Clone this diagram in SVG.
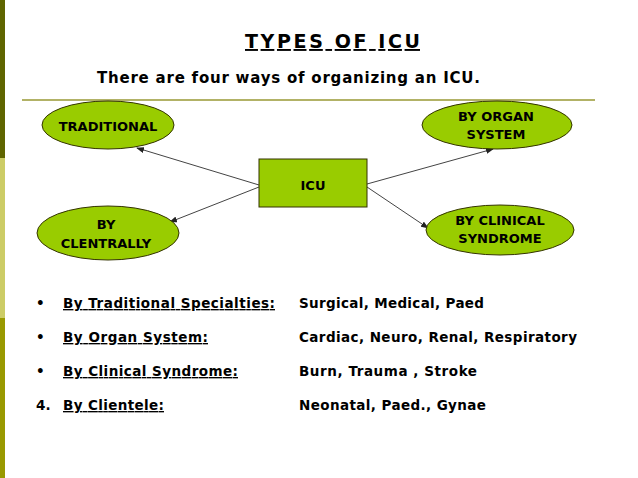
<svg xmlns="http://www.w3.org/2000/svg" width="638" height="478" viewBox="0 0 638 478">
<style>
text{font-family:"DejaVu Sans","Verdana",sans-serif;font-weight:bold;fill:#000}
.n{font-size:13px;text-anchor:middle}
.l{font-size:13.5px}
.e{fill:#99cc00;stroke:#333300;stroke-width:1}
.c{stroke:#444;stroke-width:1;fill:none;marker-end:url(#a)}
</style>
<defs><marker id="a" markerWidth="8" markerHeight="6" refX="7" refY="3" orient="auto" markerUnits="userSpaceOnUse"><path d="M0,0L8,3L0,6z" fill="#222"/></marker></defs>
<rect width="638" height="478" fill="#fff"/>
<rect x="0" y="0" width="5" height="158" fill="#5f6500"/>
<rect x="0" y="158" width="5" height="160" fill="#cccc66"/>
<rect x="0" y="318" width="5" height="160" fill="#999900"/>
<line x1="22" y1="100" x2="595" y2="100" stroke="#999933" stroke-width="1.5"/>
<text x="245" y="48" font-size="19" text-decoration="underline" textLength="175">TYPES OF ICU </text>
<text x="97" y="83" font-size="15" textLength="383">There are four ways of organizing an ICU.</text>
<g id="conn">
<line class="c" x1="259" y1="185" x2="137" y2="148"/>
<line class="c" x1="259" y1="187" x2="170" y2="222"/>
<line class="c" x1="367" y1="184" x2="493" y2="149"/>
<line class="c" x1="367" y1="187" x2="428" y2="228"/>
</g>
<g id="icu"><rect class="e" x="259" y="159" width="108" height="48"/><text class="n" x="313" y="190">ICU</text></g>
<g id="traditional"><ellipse class="e" cx="108" cy="125" rx="66" ry="24"/><text class="n" x="108" y="131">TRADITIONAL</text></g>
<g id="centrally"><ellipse class="e" cx="108" cy="233" rx="71" ry="27"/><text class="n" x="106" y="229">BY</text><text class="n" x="106" y="248">CLENTRALLY</text></g>
<g id="organ"><ellipse class="e" cx="497" cy="125" rx="75" ry="24"/><text class="n" x="496" y="121">BY ORGAN</text><text class="n" x="496" y="139">SYSTEM</text></g>
<g id="clinical"><ellipse class="e" cx="500" cy="230" rx="74" ry="25"/><text class="n" x="500" y="225">BY CLINICAL</text><text class="n" x="500" y="243">SYNDROME</text></g>
<g class="l">
<text x="36" y="308">•</text><text x="63" y="308" text-decoration="underline" textLength="212">By Traditional Specialties:</text><text x="299" y="308" textLength="185">Surgical, Medical, Paed</text>
<text x="36" y="342">•</text><text x="63" y="342" text-decoration="underline" textLength="145">By Organ System:</text><text x="299" y="342" textLength="278">Cardiac, Neuro, Renal, Respiratory</text>
<text x="36" y="376">•</text><text x="63" y="376" text-decoration="underline" textLength="175">By Clinical Syndrome:</text><text x="299" y="376" textLength="178">Burn, Trauma , Stroke</text>
<text x="36" y="410">4.</text><text x="63" y="410" text-decoration="underline" textLength="101">By Clientele:</text><text x="299" y="410" textLength="187">Neonatal, Paed., Gynae</text>
</g>
</svg>
